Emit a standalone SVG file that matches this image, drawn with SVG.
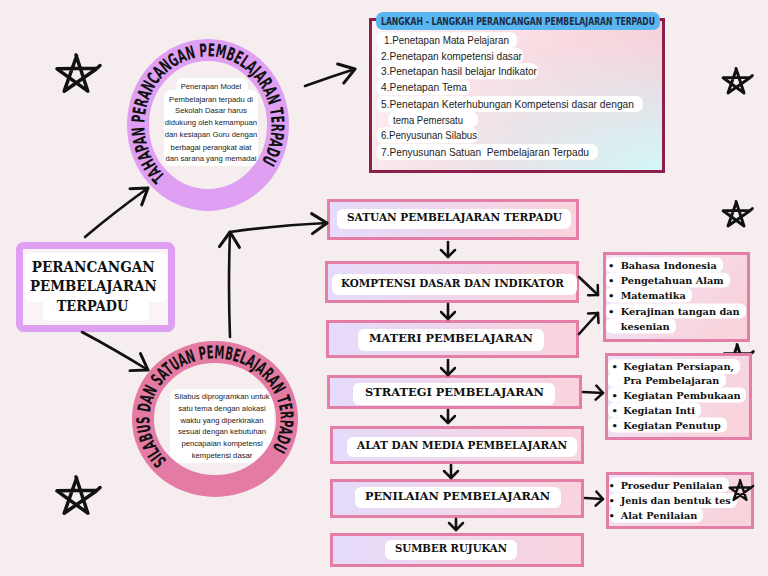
<svg xmlns="http://www.w3.org/2000/svg" width="768" height="576" viewBox="0 0 768 576">
<defs>
<style>
.ringt{font-family:"DejaVu Sans Condensed","DejaVu Sans",sans-serif;font-weight:bold;font-size:18px;fill:#111;}
.small{font-family:"Liberation Sans",Arial,sans-serif;font-size:7.7px;fill:#222;text-anchor:middle;}
.box{fill:url(#gBox);stroke:#e57ea7;stroke-width:3;}
.side{fill:url(#gSide);stroke:#e57ea7;stroke-width:3;}
.lbl{font-family:"DejaVu Serif","Liberation Serif",serif;font-weight:bold;font-size:11px;fill:#111;}
.big{font-family:"DejaVu Serif","Liberation Serif",serif;font-weight:bold;font-size:14px;fill:#111;}
.wb{fill:#fff;}
.item{font-family:"Liberation Sans",Arial,sans-serif;font-size:10.5px;fill:#222;}
.bl{font-family:"DejaVu Serif","Liberation Serif",serif;font-weight:bold;font-size:10px;fill:#111;}
.con{fill:none;stroke:#111;stroke-width:2.6;stroke-linecap:round;stroke-linejoin:round;}
.star{fill:none;stroke:#111;stroke-width:3.5;stroke-linecap:round;stroke-linejoin:round;}
.stars{stroke-width:4.3;}
</style>
<linearGradient id="gBox" x1="0" y1="0" x2="1" y2="0">
<stop offset="0" stop-color="#e5dbfb"/><stop offset="1" stop-color="#fad3dd"/>
</linearGradient>
<linearGradient id="gSide" x1="0" y1="0" x2="1" y2="0.4">
<stop offset="0" stop-color="#eee5fb"/><stop offset="1" stop-color="#f8d3dc"/>
</linearGradient>
<linearGradient id="gTop" x1="0" y1="0" x2="1" y2="0.3">
<stop offset="0" stop-color="#fcf3f6"/><stop offset="0.6" stop-color="#f9dbe2"/><stop offset="1" stop-color="#f6d0da"/>
</linearGradient>
<radialGradient id="gCyan" cx="1" cy="1" r="0.9">
<stop offset="0" stop-color="#d2f8f8" stop-opacity="1"/><stop offset="1" stop-color="#d2f8f8" stop-opacity="0"/>
</radialGradient>
<marker id="ab" viewBox="0 0 22 24" markerWidth="22" markerHeight="24" refX="19" refY="12" orient="auto" markerUnits="userSpaceOnUse">
<path d="M4,2 L19,12 L4,22" fill="none" stroke="#111" stroke-width="3" stroke-linecap="round" stroke-linejoin="round"/>
</marker>
<marker id="as" viewBox="0 0 12 18" markerWidth="12" markerHeight="18" refX="9" refY="9" orient="auto" markerUnits="userSpaceOnUse">
<path d="M2,2 L9,9 L2,16" fill="none" stroke="#111" stroke-width="2.5" stroke-linecap="round" stroke-linejoin="round"/>
</marker>
<path id="st" d="M0,-20 L11.8,16.2 L-19,-6.2 L21,-6.8 L24,-9.5 M20,-5.8 L-11.8,16.2 L0.6,-19"/>
<path id="pTop" d="M165.5,175.9 A63.5,68.5 0 1 1 256.6,169" fill="none"/>
<path id="pBot" d="M167.1,460.3 A65.5,60.5 0 1 1 270.5,451.1" fill="none"/>
</defs>

<rect width="768" height="576" fill="#f6edee"/>

<g id="decor">
<use href="#st" class="star" transform="translate(76,75)"/>
<use href="#st" class="star stars" transform="translate(736,82) scale(0.68)"/>
<use href="#st" class="star stars" transform="translate(736,215) scale(0.68)"/>
<use href="#st" class="star" transform="translate(76,497)"/>
<use href="#st" class="star stars" transform="translate(737,358) scale(0.68)"/>
</g>

<g id="ring-top">
<rect x="176" y="78" width="72" height="18" rx="6" class="wb"/>
<rect x="164" y="90" width="94" height="76" rx="7" class="wb"/>
<ellipse cx="208" cy="125" rx="70" ry="75" fill="none" stroke="#df9ff3" stroke-width="22"/>
<text class="small" x="211" y="89">Penerapan Model</text>
<text class="small" x="211" y="101.5">Pembelajaran terpadu di</text>
<text class="small" x="211" y="113">Sekolah Dasar harus</text>
<text class="small" x="211" y="124.5">didukung oleh kemampuan</text>
<text class="small" x="211" y="137">dan kesiapan Guru dengan</text>
<text class="small" x="211" y="149.5">berbagai perangkat alat</text>
<text class="small" x="211" y="161">dan sarana yang memadai</text>
<text class="ringt"><textPath href="#pTop" textLength="302" lengthAdjust="spacingAndGlyphs">TAHAPAN PERANCANGAN PEMBELAJARAN TERPADU</textPath></text>
</g>

<g id="ring-bottom">
<rect x="170" y="389" width="104" height="74" rx="8" class="wb"/>
<ellipse cx="215" cy="419" rx="72" ry="67" fill="none" stroke="#e47ba4" stroke-width="22"/>
<text class="small" x="222" y="399">Silabus diprogramkan untuk</text>
<text class="small" x="222" y="411">satu tema dengan alokasi</text>
<text class="small" x="222" y="423">waktu yang diperkirakan</text>
<text class="small" x="222" y="434">sesuai dengan kebutuhan</text>
<text class="small" x="222" y="446">pencapaian kompetensi</text>
<text class="small" x="222" y="458">kempetensi dasar</text>
<text class="ringt"><textPath href="#pBot" textLength="275" lengthAdjust="spacingAndGlyphs">SILABUS DAN SATUAN PEMBELAJARAN TERPADU</textPath></text>
</g>

<g id="root">
<rect x="19.5" y="245.5" width="152" height="83" rx="4" fill="#fbf3f8" stroke="#df9ff3" stroke-width="7"/>
<rect x="25" y="253" width="142" height="49" rx="6" class="wb"/>
<rect x="43" y="296" width="106" height="25" rx="5" class="wb"/>
<text class="big" x="31.7" y="272.4" textLength="123" lengthAdjust="spacingAndGlyphs">PERANCANGAN</text>
<text class="big" x="30" y="291.1" textLength="126.7" lengthAdjust="spacingAndGlyphs">PEMBELAJARAN</text>
<text class="big" x="56.7" y="311.1" textLength="71.6" lengthAdjust="spacingAndGlyphs">TERPADU</text>
</g>

<g id="steps">
<rect x="370.5" y="19.5" width="293" height="152" fill="url(#gTop)" stroke="none"/>
<rect x="370.5" y="19.5" width="293" height="152" fill="url(#gCyan)" stroke="#8e1f4c" stroke-width="3"/>
<rect x="376" y="32.3" width="141" height="16" rx="7" class="wb"/>
<rect x="376" y="47.7" width="147" height="16" rx="7" class="wb"/>
<rect x="376" y="63.3" width="162" height="16" rx="7" class="wb"/>
<rect x="376" y="79.3" width="94" height="16" rx="7" class="wb"/>
<rect x="376" y="96" width="267" height="16" rx="7" class="wb"/>
<rect x="388" y="111.7" width="90" height="16" rx="7" class="wb"/>
<rect x="376" y="127.3" width="102" height="16" rx="7" class="wb"/>
<rect x="376" y="144" width="222" height="16" rx="7" class="wb"/>
<rect x="376" y="12" width="284" height="18" rx="7" fill="#5ab6ef"/>
<text x="381" y="24.5" textLength="274" lengthAdjust="spacingAndGlyphs" font-family="DejaVu Sans Condensed, DejaVu Sans, sans-serif" font-weight="bold" font-size="10" fill="#1c2a44">LANGKAH - LANGKAH PERANCANGAN PEMBELAJARAN TERPADU</text>
<text class="item" x="384" y="44" textLength="125" lengthAdjust="spacingAndGlyphs">1.Penetapan Mata Pelajaran</text>
<text class="item" x="381" y="59.5" textLength="141" lengthAdjust="spacingAndGlyphs">2.Penetapan kompetensi dasar</text>
<text class="item" x="381" y="75" textLength="156" lengthAdjust="spacingAndGlyphs">3.Penetapan hasil belajar Indikator</text>
<text class="item" x="381" y="91" textLength="86" lengthAdjust="spacingAndGlyphs">4.Penetapan Tema</text>
<text class="item" x="381" y="107.5" textLength="253" lengthAdjust="spacingAndGlyphs">5.Penetapan Keterhubungan Kompetensi dasar dengan</text>
<text class="item" x="393" y="123.5" textLength="70" lengthAdjust="spacingAndGlyphs">tema Pemersatu</text>
<text class="item" x="381" y="139" textLength="96" lengthAdjust="spacingAndGlyphs">6.Penyusunan Silabus</text>
<text class="item" x="381" y="155.5" textLength="208" lengthAdjust="spacingAndGlyphs" xml:space="preserve">7.Penyusunan Satuan  Pembelajaran Terpadu</text>
</g>

<g id="n-satuan">
<rect x="328.5" y="200.5" width="249" height="38" class="box"/>
<rect x="337" y="209" width="234" height="20" rx="6" class="wb"/>
<text class="lbl" x="347" y="221" textLength="215" lengthAdjust="spacingAndGlyphs">SATUAN PEMBELAJARAN TERPADU</text>
</g>
<g id="n-kompetensi">
<rect x="326.5" y="262.5" width="251" height="39" class="box"/>
<rect x="332" y="274" width="245" height="21" rx="6" class="wb"/>
<text class="lbl" x="341" y="287" textLength="223" lengthAdjust="spacingAndGlyphs">KOMPTENSI DASAR DAN INDIKATOR</text>
</g>
<g id="n-materi">
<rect x="327.5" y="321.5" width="250" height="35" class="box"/>
<rect x="358" y="329" width="186" height="22" rx="6" class="wb"/>
<text class="lbl" x="369" y="342" textLength="164" lengthAdjust="spacingAndGlyphs">MATERI PEMBELAJARAN</text>
</g>
<g id="n-strategi">
<rect x="328.5" y="376.5" width="252" height="31" class="box"/>
<rect x="353" y="383" width="202" height="22" rx="6" class="wb"/>
<text class="lbl" x="365" y="396" textLength="179" lengthAdjust="spacingAndGlyphs">STRATEGI PEMBELAJARAN</text>
</g>
<g id="n-alat">
<rect x="331.5" y="427.5" width="251" height="35" class="box"/>
<rect x="347" y="437" width="230" height="20" rx="6" class="wb"/>
<text class="lbl" x="357" y="449" textLength="210" lengthAdjust="spacingAndGlyphs">ALAT DAN MEDIA PEMBELAJARAN</text>
</g>
<g id="n-penilaian">
<rect x="331.5" y="480.5" width="251" height="36" class="box"/>
<rect x="355" y="487" width="206" height="21" rx="6" class="wb"/>
<text class="lbl" x="365" y="500" textLength="185" lengthAdjust="spacingAndGlyphs">PENILAIAN PEMBELAJARAN</text>
</g>
<g id="n-sumber">
<rect x="331.5" y="534.5" width="251" height="31" class="box"/>
<rect x="385" y="540" width="132" height="20" rx="6" class="wb"/>
<text class="lbl" x="395" y="552" textLength="112" lengthAdjust="spacingAndGlyphs">SUMBER RUJUKAN</text>
</g>

<g id="n-mapel">
<rect x="604.5" y="253.5" width="144" height="87" class="side"/>
<rect x="606" y="257.5" width="117" height="15" rx="6" class="wb"/>
<rect x="606" y="272.5" width="124" height="15" rx="6" class="wb"/>
<rect x="606" y="287.5" width="86" height="15" rx="6" class="wb"/>
<rect x="606" y="303.5" width="140" height="15" rx="6" class="wb"/>
<rect x="606" y="318.5" width="70" height="15" rx="6" class="wb"/>
<text class="bl" x="608" y="268.5">•</text>
<text class="bl" x="620.7" y="268.5" textLength="96" lengthAdjust="spacingAndGlyphs">Bahasa Indonesia</text>
<text class="bl" x="608" y="283.5">•</text>
<text class="bl" x="620.7" y="283.5" textLength="103" lengthAdjust="spacingAndGlyphs">Pengetahuan Alam</text>
<text class="bl" x="608" y="298.5">•</text>
<text class="bl" x="620.7" y="298.5" textLength="65" lengthAdjust="spacingAndGlyphs">Matematika</text>
<text class="bl" x="608" y="314.5">•</text>
<text class="bl" x="620.7" y="314.5" textLength="119" lengthAdjust="spacingAndGlyphs">Kerajinan tangan dan</text>
<text class="bl" x="620.7" y="329.5" textLength="49" lengthAdjust="spacingAndGlyphs">kesenian</text>
</g>

<g id="n-kegiatan">
<rect x="606.5" y="354.5" width="144" height="84" class="side"/>
<rect x="608" y="359" width="132" height="15" rx="6" class="wb"/>
<rect x="608" y="372.5" width="118" height="15" rx="6" class="wb"/>
<rect x="608" y="387.5" width="138" height="15" rx="6" class="wb"/>
<rect x="608" y="402.5" width="93" height="15" rx="6" class="wb"/>
<rect x="608" y="417.5" width="119" height="15" rx="6" class="wb"/>
<text class="bl" x="611.5" y="370">•</text>
<text class="bl" x="623.3" y="370" textLength="110.7" lengthAdjust="spacingAndGlyphs">Kegiatan Persiapan,</text>
<text class="bl" x="623.3" y="383.5" textLength="96" lengthAdjust="spacingAndGlyphs">Pra Pembelajaran</text>
<text class="bl" x="611.5" y="398.5">•</text>
<text class="bl" x="623.3" y="398.5" textLength="117.4" lengthAdjust="spacingAndGlyphs">Kegiatan Pembukaan</text>
<text class="bl" x="611.5" y="413.5">•</text>
<text class="bl" x="623.3" y="413.5" textLength="71.7" lengthAdjust="spacingAndGlyphs">Kegiatan Inti</text>
<text class="bl" x="611.5" y="428.5">•</text>
<text class="bl" x="623.3" y="428.5" textLength="97.4" lengthAdjust="spacingAndGlyphs">Kegiatan Penutup</text>
</g>

<g id="n-nilai">
<rect x="607.5" y="473.5" width="145" height="54" class="side"/>
<rect x="609" y="477.5" width="120" height="15" rx="6" class="wb"/>
<rect x="609" y="493" width="128" height="15" rx="6" class="wb"/>
<rect x="609" y="507.5" width="94" height="15" rx="6" class="wb"/>
<text class="bl" x="608.5" y="488.5">•</text>
<text class="bl" x="620.7" y="488.5" textLength="102" lengthAdjust="spacingAndGlyphs">Prosedur Penilaian</text>
<text class="bl" x="608.5" y="504">•</text>
<text class="bl" x="620.7" y="504" textLength="110" lengthAdjust="spacingAndGlyphs">Jenis dan bentuk tes</text>
<text class="bl" x="608.5" y="518.5">•</text>
<text class="bl" x="620.7" y="518.5" textLength="76.6" lengthAdjust="spacingAndGlyphs">Alat Penilaian</text>
</g>

<g id="decor-top">
<use href="#st" class="star stars" transform="translate(740,491) scale(0.55)"/>
</g>

<g id="connectors">
<path class="con" d="M85,237 Q112,214 148,188" marker-end="url(#ab)"/>
<path class="con" d="M82,332 Q114,349 148,370" marker-end="url(#ab)"/>
<path class="con" d="M305,86 Q330,77 355,69" marker-end="url(#ab)"/>
<path class="con" d="M230,337 Q228,285 230,232" marker-end="url(#ab)"/>
<path class="con" d="M230,232 Q280,225 327,223" marker-end="url(#ab)"/>
<path class="con" d="M448,242 L448,257" marker-end="url(#as)"/>
<path class="con" d="M448,304 L448,319" marker-end="url(#as)"/>
<path class="con" d="M448,360 L448,375" marker-end="url(#as)"/>
<path class="con" d="M448,410 L448,423" marker-end="url(#as)"/>
<path class="con" d="M451,465 L451,478" marker-end="url(#as)"/>
<path class="con" d="M456,519 L456,530" marker-end="url(#as)"/>
<path class="con" d="M579,277 L598,295" marker-end="url(#as)"/>
<path class="con" d="M579,334 L598,313" marker-end="url(#as)"/>
<path class="con" d="M583,392 L603,393" marker-end="url(#as)"/>
<path class="con" d="M585,498 L603,499" marker-end="url(#as)"/>
</g>
</svg>
